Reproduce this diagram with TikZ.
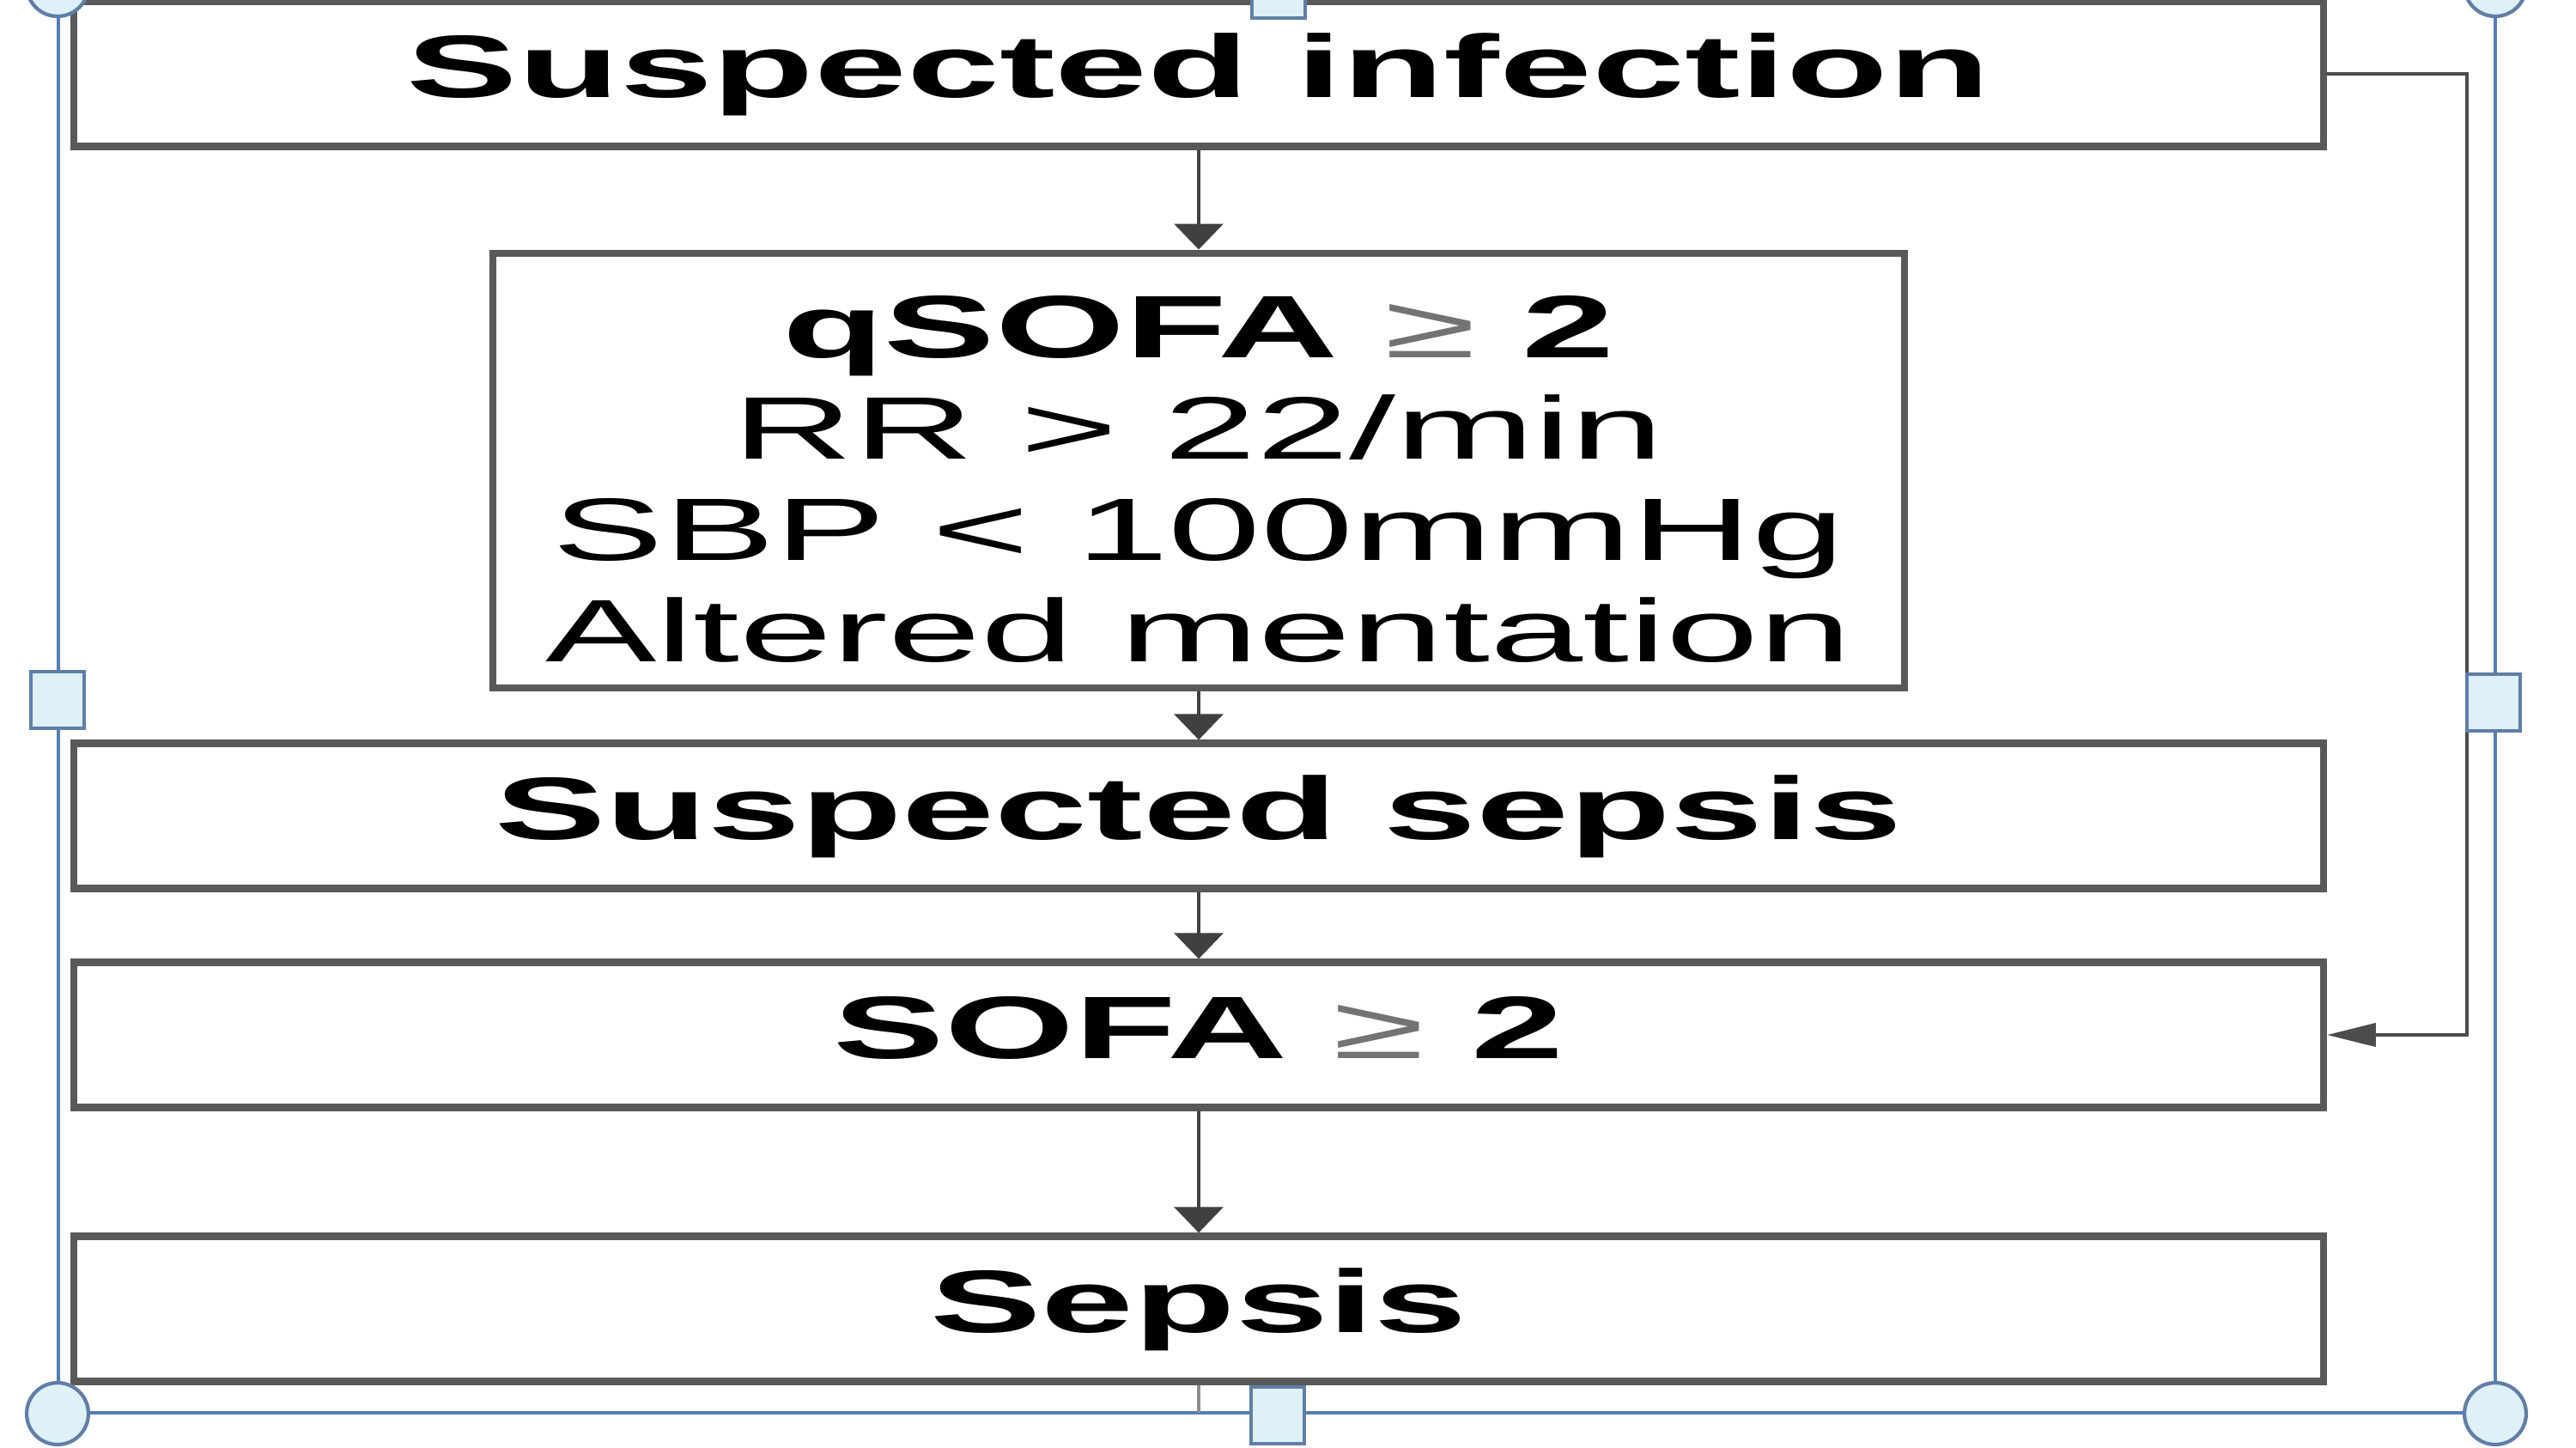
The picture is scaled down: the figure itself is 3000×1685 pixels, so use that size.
\documentclass[tikz,border=0pt]{standalone}
\usepackage{fontspec}
\setmainfont{Liberation Sans}
\usepackage{graphicx}
\usetikzlibrary{arrows.meta}
\definecolor{selblue}{RGB}{84,126,182}
\definecolor{gripfill}{RGB}{222,240,248}
\newcommand{\stretchtxt}[1]{\scalebox{1.88}[1]{#1}}
\newcommand{\geqsign}{{\mdseries\color{black!55}≥}}

\begin{document}
\begin{tikzpicture}[x=0.005cm,y={(0cm,-0.005cm)},
	font=\fontsize{14.7}{16.8}\selectfont,
	stage/.style={rectangle,draw=black!65,line width=1.2pt,fill=white,minimum width=13.11cm,minimum height=0.845cm,inner sep=0pt,text height=10.5pt,text depth=2.55pt},
	crit/.style={rectangle,draw=black!65,line width=1.2pt,fill=white,minimum width=8.225cm,minimum height=2.535cm,inner sep=0pt},
	flow/.style={-{Triangle[width=2.85mm,length=1.5mm]},draw=black!75,line width=0.5pt},
	back/.style={-{Triangle[width=1.35mm,length=2.85mm]},draw=black!70,line width=0.6pt},
	frame/.style={draw=selblue,line width=0.7pt},
	knob/.style={circle,draw=selblue!70!gray,fill=gripfill,line width=0.6pt,minimum size=0.36cm,inner sep=0pt},
	grip/.style={rectangle,draw=selblue!70!gray,fill=gripfill,line width=0.6pt,minimum width=0.31cm,minimum height=0.33cm,inner sep=0pt}]
			\useasboundingbox (0,0) rectangle (3000,1685);
			
			% selection frame
			\coordinate (fa) at (68,-8);
			\coordinate (fb) at (2906,1645);
			\draw[frame] (fa) rectangle (fb);
			
			\node[stage] (inf) at (1396,86) {\stretchtxt{\bfseries Suspected infection}};
			\node[crit] (qsofa) at (1396,548) {\raisebox{-3.1pt}[\height][\depth]{\stretchtxt{\begin{tabular}{@{}c@{}}\bfseries qSOFA \geqsign{} 2\\ RR > 22/min\\ SBP < 100mmHg\\ Altered mentation\end{tabular}}}};
			\node[stage] (ssep) at (1396,950) {\stretchtxt{\bfseries Suspected sepsis}};
			\node[stage] (sofa) at (1396,1205) {\stretchtxt{\bfseries SOFA \geqsign{} 2}};
			\node[stage] (sep) at (1396,1524) {\stretchtxt{\bfseries Sepsis}};
			
			\draw[flow] (inf) -- (qsofa);
			\draw[flow] (qsofa) -- (ssep);
			\draw[flow] (ssep) -- (sofa);
			\draw[flow] (sofa) -- (sep);
			\draw[back] (inf.east) -- ++(163,0) |- (sofa.east);
			
			\coordinate (tail) at (1400,1645);
			\draw[black!45,line width=0.5pt] (sep.south) -- (sep.south |- tail);
			
			% handles
			\node[knob] (tl) at (67,-17) {};
			\node[knob] (tr) at (2906,-17) {};
			\node[knob] (bl) at (67,1646) {};
			\node[knob] (br) at (2906,1646) {};
			\node[grip] (tm) at (1489,-12) {};
			\node[grip] (ml) at (67,815) {};
			\node[grip] (mr) at (2904,818) {};
			\node[grip] (bm) at (1488,1648) {};
		\end{tikzpicture}
\end{document}
